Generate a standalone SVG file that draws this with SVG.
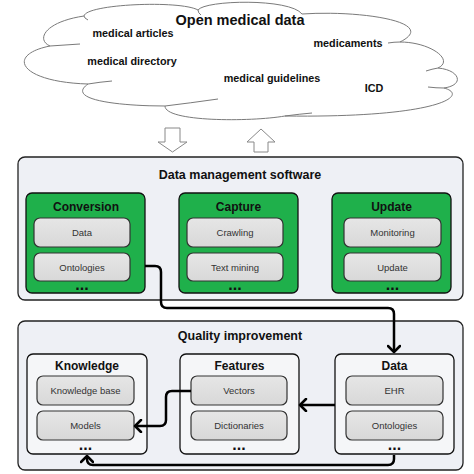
<svg xmlns="http://www.w3.org/2000/svg" width="474" height="474" viewBox="0 0 474 474">
<style>
text{font-family:"Liberation Sans",Arial,sans-serif;text-anchor:middle}
.cloud{fill:#fff;stroke:#7a7a7a;stroke-width:1}
.tail{fill:none;stroke:#7a7a7a;stroke-width:1}
.ct{font-weight:bold;font-size:10.8px;fill:#111}
.panel{fill:#eef0f5;stroke:#222;stroke-width:1.3}
.green{fill:#1fb04b;stroke:#111;stroke-width:1.3}
.white{fill:#f5f6f8;stroke:#111;stroke-width:1.3}
.inner{fill:url(#g);stroke:#333;stroke-width:1.2}
.pt{font-weight:bold;font-size:12.5px;fill:#111}
.bt{font-weight:bold;font-size:12px;fill:#111}
.it{font-size:9.5px;fill:#333}
.dots{font-weight:bold;font-size:16px;fill:#111}
.hollow{fill:#fff;stroke:#888;stroke-width:1}
.conn{fill:none;stroke:#000;stroke-width:2.5;stroke-linejoin:round}
</style>
<defs>
<linearGradient id="g" x1="0" y1="0" x2="0" y2="1">
<stop offset="0" stop-color="#e6e6e6"/>
<stop offset="1" stop-color="#d8d8d8"/>
</linearGradient>
<marker id="ah" markerUnits="userSpaceOnUse" markerWidth="12" markerHeight="14" refX="8" refY="7" orient="auto">
<path d="M2,1 L8,7 L2,13" fill="none" stroke="#000" stroke-width="2.5" stroke-linecap="round" stroke-linejoin="round"/>
</marker>
</defs>

<g id="cloud">
<path class="cloud" d="M50,46 C36,40 44,22 84,16 C86,4 180,0 198,10 C205,0 290,-2 302,14 C360,10 440,22 400,42 C430,42 455,60 438,68 C460,70 465,85 444,88 C470,95 440,118 285,116 C250,122 165,122 165,106 C120,106 65,100 88,84 C20,82 5,55 50,46 Z"/>
<path class="tail" d="M50,46 Q65,45 80,44 M88,84 Q100,82 112,81 M165,106 Q190,103 218,99 M285,116 Q300,114 312,113 M444,88 Q436,88 428,87 M438,68 Q432,69 426,71 M400,42 Q394,42 388,43 M84,16 Q84,18 88,20 M198,10 Q198,13 201,15"/>
<text x="240" y="25" style="font-weight:bold;font-size:14.5px;fill:#111">Open medical data</text>
<text class="ct" x="133" y="37">medical articles</text>
<text class="ct" x="348" y="47">medicaments</text>
<text class="ct" x="132" y="65">medical directory</text>
<text class="ct" x="272" y="82">medical guidelines</text>
<text class="ct" x="374" y="92">ICD</text>
</g>

<g id="flow-arrows">
<polygon class="hollow" points="165,128 180,128 180,142 187,142 172.5,152 158,142 165,142"/>
<polygon class="hollow" points="254,152 268,152 268,142 275,142 261,129 247,142 254,142"/>
</g>

<g id="data-management">
<rect class="panel" x="18" y="157" width="445" height="143" rx="7"/>
<text class="pt" x="240" y="179">Data management software</text>
</g>

<g id="conversion">
<rect class="green" x="26" y="193" width="119" height="100" rx="6"/>
<text class="bt" x="86" y="211">Conversion</text>
<rect class="inner" x="34" y="218" width="96" height="29" rx="6"/>
<text class="it" x="82" y="236">Data</text>
<rect class="inner" x="34" y="253" width="96" height="28" rx="6"/>
<text class="it" x="82" y="270.5">Ontologies</text>
<text class="dots" x="82" y="290">...</text>
</g>

<g id="capture">
<rect class="green" x="179" y="193" width="119" height="100" rx="6"/>
<text class="bt" x="238.5" y="211">Capture</text>
<rect class="inner" x="187" y="218" width="96" height="29" rx="6"/>
<text class="it" x="235" y="236">Crawling</text>
<rect class="inner" x="187" y="253" width="96" height="28" rx="6"/>
<text class="it" x="235" y="270.5">Text mining</text>
<text class="dots" x="235" y="290">...</text>
</g>

<g id="update">
<rect class="green" x="332" y="193" width="119" height="100" rx="6"/>
<text class="bt" x="391.5" y="211">Update</text>
<rect class="inner" x="344" y="218" width="97" height="29" rx="6"/>
<text class="it" x="392.5" y="236">Monitoring</text>
<rect class="inner" x="344" y="253" width="97" height="28" rx="6"/>
<text class="it" x="392.5" y="270.5">Update</text>
<text class="dots" x="392.5" y="290">...</text>
</g>

<g id="quality-improvement">
<rect class="panel" x="18" y="321" width="445" height="149" rx="7"/>
<text class="pt" x="240" y="340">Quality improvement</text>
</g>

<g id="knowledge">
<rect class="white" x="27" y="354" width="120" height="100" rx="6"/>
<text class="bt" x="87" y="369.5">Knowledge</text>
<rect class="inner" x="37" y="376" width="97" height="29" rx="6"/>
<text class="it" x="85.5" y="394">Knowledge base</text>
<rect class="inner" x="37" y="411" width="97" height="29" rx="6"/>
<text class="it" x="85.5" y="429">Models</text>
<text class="dots" x="85.5" y="450">...</text>
</g>

<g id="features">
<rect class="white" x="180" y="354" width="119" height="100" rx="6"/>
<text class="bt" x="239.5" y="369.5">Features</text>
<rect class="inner" x="191" y="376" width="96" height="29" rx="6"/>
<text class="it" x="239" y="394">Vectors</text>
<rect class="inner" x="191" y="411" width="96" height="29" rx="6"/>
<text class="it" x="239" y="429">Dictionaries</text>
<text class="dots" x="239" y="450">...</text>
</g>

<g id="data">
<rect class="white" x="335" y="354" width="119" height="100" rx="6"/>
<text class="bt" x="394.5" y="369.5">Data</text>
<rect class="inner" x="346" y="376" width="97" height="29" rx="6"/>
<text class="it" x="394.5" y="394">EHR</text>
<rect class="inner" x="346" y="411" width="97" height="29" rx="6"/>
<text class="it" x="394.5" y="429">Ontologies</text>
<text class="dots" x="394.5" y="450">...</text>
</g>

<g id="connectors">
<path class="conn" marker-end="url(#ah)" d="M145,266 H155 Q161,266 161,272 V302 Q161,308 167,308 H388 Q394,308 394,314 V352"/>
<path class="conn" marker-end="url(#ah)" d="M335,405 H300"/>
<path class="conn" marker-end="url(#ah)" d="M191,391 H172 Q166,391 166,397 V420 Q166,426 160,426 H135"/>
<path class="conn" marker-end="url(#ah)" d="M394,455 V459 Q394,465 388,465 H93 Q87,465 87,459 V456"/>
</g>
</svg>
